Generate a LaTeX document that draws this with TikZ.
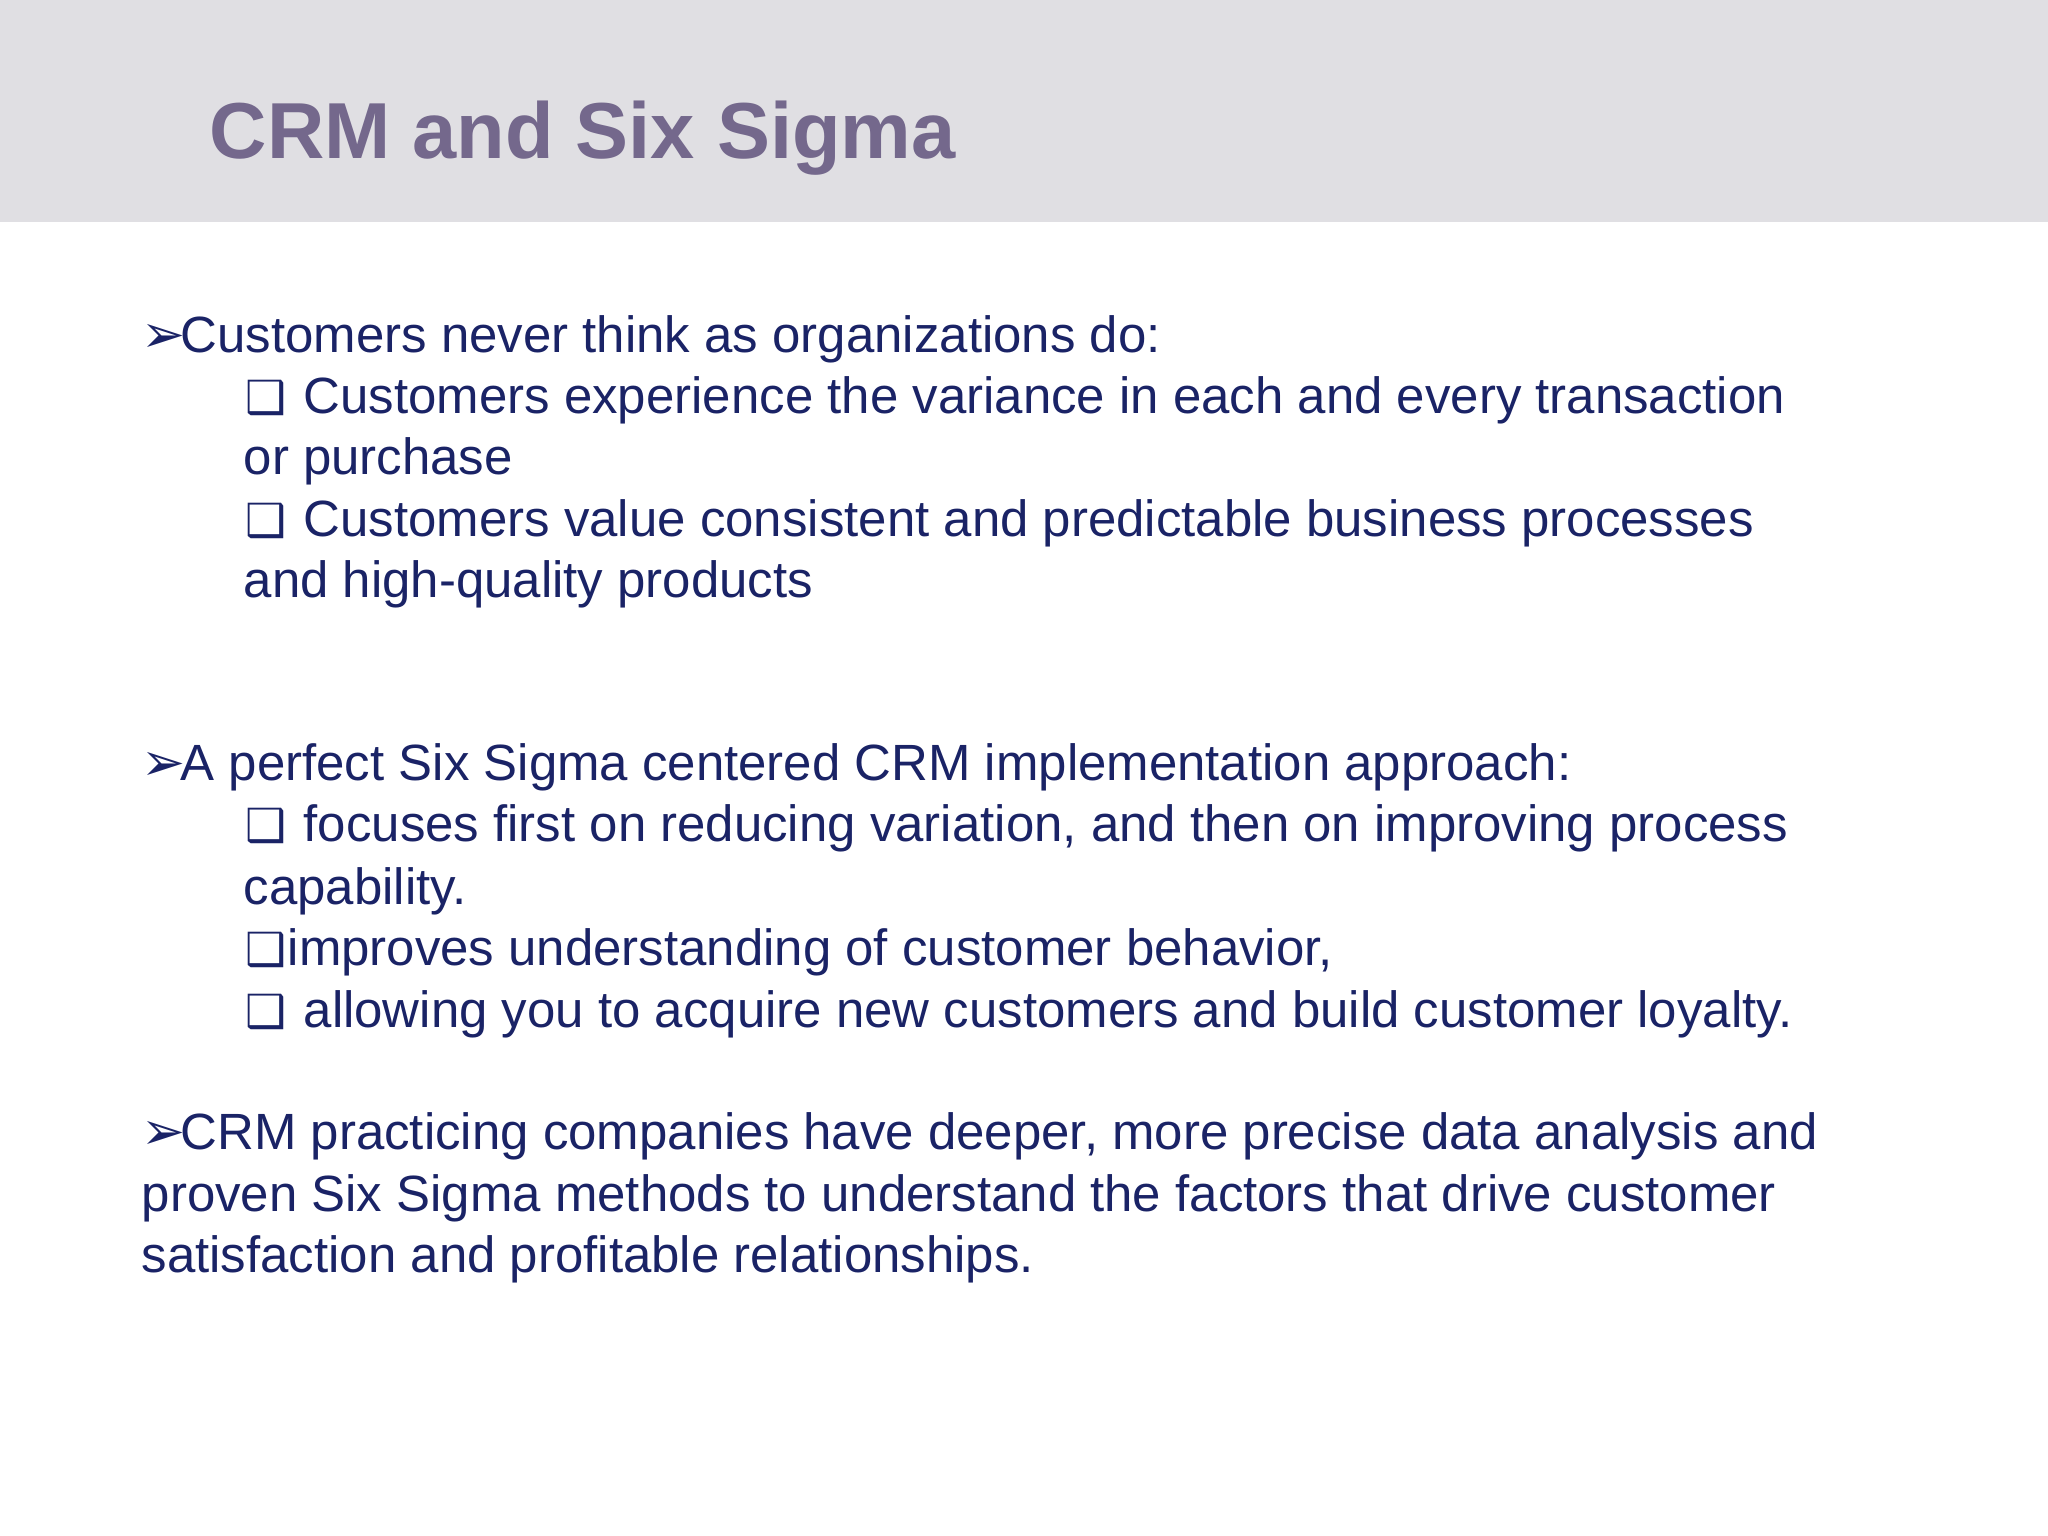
\documentclass[tikz,border=0pt]{standalone}
\usepackage{fontspec}
\setmainfont{Liberation Sans}
\newfontfamily\symf{DejaVu Sans}
\definecolor{hdr}{HTML}{E0DFE3}
\definecolor{ttl}{HTML}{74688C}
\definecolor{txt}{HTML}{1A2366}
\begin{document}
\begin{tikzpicture}[x=1cm,y=-1cm,
  ln/.style={anchor=base west,inner sep=0pt,text=txt,font=\fontsize{14.5}{17}\selectfont},
  ar/.style={anchor=base west,inner sep=0pt,text=txt,font=\symf\bfseries\fontsize{15}{17}\selectfont},
  bx/.style={anchor=base west,inner sep=0pt,text=txt,font=\symf\bfseries\fontsize{13}{15}\selectfont}]
\useasboundingbox (0,0) rectangle (20.48,15.36);
\fill[hdr] (0,0) rectangle (20.48,2.22);
\node[anchor=base west,inner sep=0pt,text=ttl,font=\bfseries\fontsize{22.6}{26}\selectfont] (title) at (2.09,1.59) {CRM and Six Sigma};
% block 1
\node[ar] (a1) at (1.41,3.526) {➢};
\node[ln] (l1) at (1.80,3.526) {Customers never think as organizations do:};
\node[bx] (b1) at (2.45,4.14) {❑};
\node[ln] (l2) at (3.03,4.14) {Customers experience the variance in each and every transaction};
\node[ln] (l3) at (2.43,4.75) {or purchase};
\node[bx] (b2) at (2.45,5.37) {❑};
\node[ln] (l4) at (3.03,5.37) {Customers value consistent and predictable business processes};
\node[ln] (l5) at (2.43,5.98) {and high-quality products};
% block 2
\node[ar] (a2) at (1.41,7.81) {➢};
\node[ln] (m1) at (1.80,7.81) {A perfect Six Sigma centered CRM implementation approach:};
\node[bx] (b3) at (2.45,8.42) {❑};
\node[ln] (m2) at (3.03,8.42) {focuses first on reducing variation, and then on improving process};
\node[ln] (m3) at (2.43,9.04) {capability.};
\node[bx] (b4) at (2.45,9.65) {❑};
\node[ln] (m4) at (2.87,9.65) {improves understanding of customer behavior,};
\node[bx] (b5) at (2.45,10.27) {❑};
\node[ln] (m5) at (3.03,10.27) {allowing you to acquire new customers and build customer loyalty.};
% block 3
\node[ar] (a3) at (1.41,11.49) {➢};
\node[ln] (n1) at (1.80,11.49) {CRM practicing companies have deeper, more precise data analysis and};
\node[ln] (n2) at (1.41,12.11) {proven Six Sigma methods to understand the factors that drive customer};
\node[ln] (n3) at (1.41,12.72) {satisfaction and profitable relationships.};
\end{tikzpicture}
\end{document}
